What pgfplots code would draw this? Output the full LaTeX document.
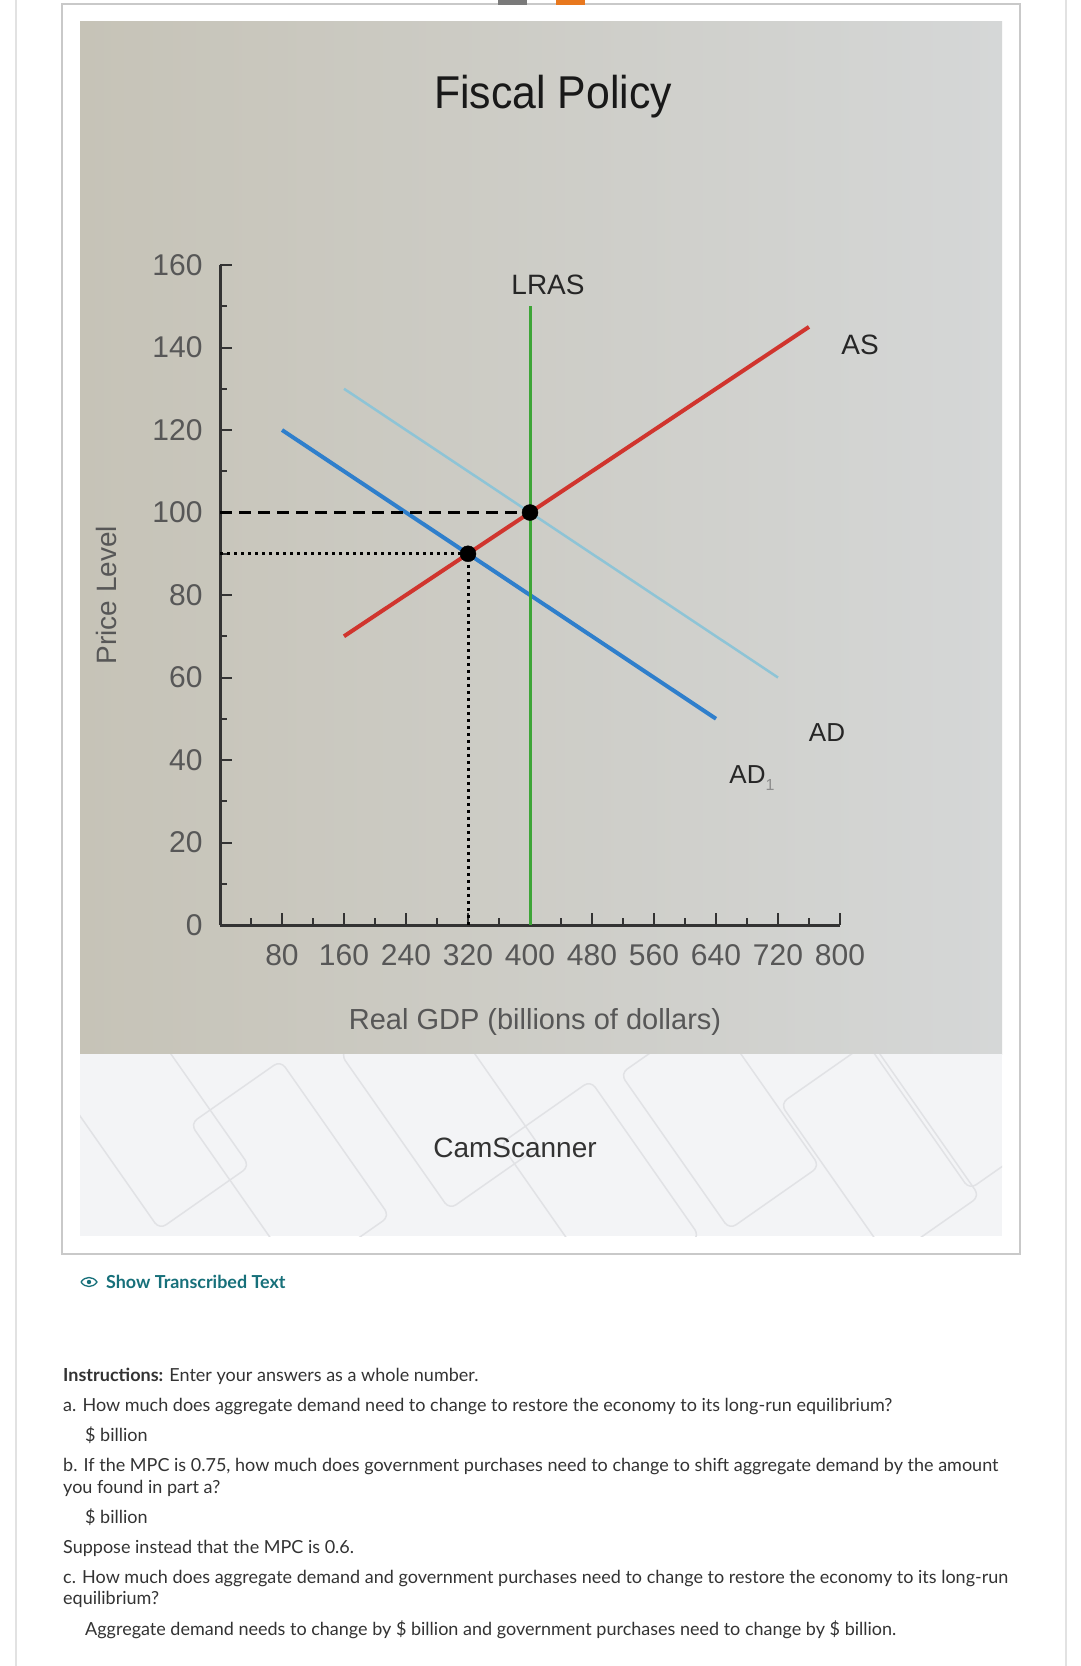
\documentclass[border=0pt]{standalone}
\usepackage{pgfplots}
\pgfplotsset{compat=1.18}
\usepackage{fontspec}
\usepackage{graphicx}
\setmainfont{Lato}
\newfontfamily\chartfont{Liberation Sans}
\definecolor{pagegray}{HTML}{E2E2E2}
\definecolor{boxgray}{HTML}{C9C9C9}
\definecolor{photoL}{HTML}{C6C3B7}
\definecolor{photoR}{HTML}{D5D7D7}
\definecolor{bandfill}{HTML}{F3F4F6}
\definecolor{bandline}{HTML}{E1E2E5}
\definecolor{tickgray}{HTML}{575757}
\definecolor{asred}{HTML}{D0352E}
\definecolor{adblue}{HTML}{2F7FCC}
\definecolor{adlight}{HTML}{8EC4D6}
\definecolor{lrasgreen}{HTML}{3DA537}
\definecolor{tealtxt}{HTML}{17707A}
\definecolor{txt}{HTML}{333333}
\definecolor{barorange}{HTML}{E8781E}
\definecolor{bargray}{HTML}{7A7A7A}

\begin{document}
\begin{tikzpicture}[x=1pt,y=1pt]
\useasboundingbox (0,0) rectangle (1080,-1666);
\fill[white] (0,0) rectangle (1080,-1666);
% page border lines
\draw[pagegray, line width=1.2pt] (16,0) -- (16,-1666);
\draw[pagegray, line width=1.2pt] (1066,0) -- (1066,-1666);
% inner image box
\draw[boxgray, line width=1.5pt] (62,-4) rectangle (1020,-1254);
% top bars
\fill[bargray] (498,0) rectangle (527,-5);
\fill[barorange] (556,0) rectangle (585,-5);
% photo background
\shade[left color=photoL, right color=photoR] (80,-21) rectangle (1002,-1054);
% CamScanner band
\fill[bandfill] (80,-1054) rectangle (1002,-1236);
\begin{scope}
\clip (80,-1054) rectangle (1002,-1236);
\foreach \cx/\cy in {150/-1120, 290/-1170, 440/-1100, 600/-1190, 720/-1120, 880/-1150, 960/-1080} {
  \draw[bandline, line width=1.5pt, rounded corners=8pt, rotate around={35:(\cx,\cy)}]
    (\cx-55,\cy-95) rectangle (\cx+55,\cy+95);
}
\end{scope}
\node[font=\chartfont\fontsize{28}{28}\selectfont, text=txt] at (515,-1148) {CamScanner};

% title
\node[font=\chartfont\fontsize{46}{46}\selectfont, text=black!90, anchor=base, xscale=0.93] at (553,-108) {Fiscal Policy};

\begin{axis}[
  at={(220pt,-925pt)}, anchor=south west,
  scale only axis, width=620pt, height=660pt,
  xmin=0, xmax=800, ymin=0, ymax=160,
  axis x line=bottom, axis y line=left,
  axis line style={-, line width=3pt, color=black!80},
  xtick={80,160,...,800}, ytick={0,20,...,160},
  minor xtick={40,120,...,760}, minor ytick={10,30,...,150},
  tick align=inside,
  major tick length=12pt, minor tick length=7pt,
  every tick/.style={black!80, line width=2pt},
  tick label style={font=\chartfont\fontsize{30}{30}\selectfont, text=tickgray},
  /pgf/number format/assume math mode=true,
  xticklabel style={yshift=-16pt},
  yticklabel style={xshift=-14pt},
  clip=false,
]
\addplot[adlight, line width=2.5pt] coordinates {(160,130) (720,60)};
\addplot[adblue, line width=4pt] coordinates {(80,120) (640,50)};
\addplot[lrasgreen, line width=3pt] coordinates {(400,0) (400,150)};
\addplot[asred, line width=4pt] coordinates {(160,70) (760,145)};
\addplot[black, line width=3pt, dash pattern=on 12pt off 7pt] coordinates {(0,100) (400,100)};
\addplot[black, line width=3pt, dash pattern=on 3pt off 4pt] coordinates {(0,90) (320,90) (320,0)};
\addplot[only marks, mark=*, mark size=8pt, black] coordinates {(320,90) (400,100)};
\end{axis}

% chart labels
\node[font=\chartfont\fontsize{28}{28}\selectfont, text=black!85] at (548,-285) {LRAS};
\node[font=\chartfont\fontsize{28}{28}\selectfont, text=black!85] at (860,-345) {AS};
\node[font=\chartfont\fontsize{26}{26}\selectfont, text=black!85] at (827,-733) {AD};
\node[font=\chartfont\fontsize{26}{26}\selectfont, text=black!85] at (752,-778) {AD\raisebox{-7pt}{\fontsize{16}{16}\selectfont\color{black!45}1}};
\node[font=\chartfont\fontsize{28}{28}\selectfont, text=tickgray, rotate=90] at (106,-595) {Price Level};
\node[font=\chartfont\fontsize{29}{29}\selectfont, text=tickgray] at (535,-1022) {Real GDP (billions of dollars)};

% show transcribed text
\draw[tealtxt, line width=1.3pt] (81,-1282) .. controls (85,-1276) and (93,-1276) .. (97,-1282) .. controls (93,-1288) and (85,-1288) .. (81,-1282);
\fill[tealtxt] (89,-1282) circle (2.2pt);
\node[anchor=base west, font=\bfseries\fontsize{17.9}{17.9}\selectfont, text=tealtxt, inner sep=0pt] at (106,-1288) {Show Transcribed Text};

% instructions
\begin{scope}[every node/.style={anchor=base west, inner sep=0pt, text=txt, font=\fontsize{18}{18}\selectfont}]
\node at (63,-1381) {\textbf{Instructions:} Enter your answers as a whole number.};
\node at (63,-1411) {a. How much does aggregate demand need to change to restore the economy to its long-run equilibrium?};
\node at (85,-1441) {\$ billion};
\node at (63,-1471) {b. If the MPC is 0.75, how much does government purchases need to change to shift aggregate demand by the amount};
\node at (63,-1493) {you found in part a?};
\node at (85,-1523) {\$ billion};
\node at (63,-1553) {Suppose instead that the MPC is 0.6.};
\node at (63,-1583) {c. How much does aggregate demand and government purchases need to change to restore the economy to its long-run};
\node at (63,-1604) {equilibrium?};
\node at (85,-1635) {Aggregate demand needs to change by \$ billion and government purchases need to change by \$ billion.};
\end{scope}
\end{tikzpicture}
\end{document}
